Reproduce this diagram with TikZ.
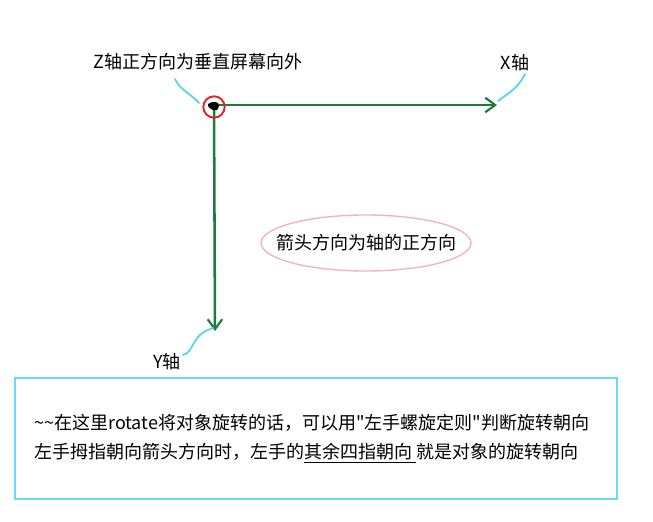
\documentclass[tikz,border=0pt]{standalone}
\usepackage{fontspec}
\setmainfont{Noto Sans CJK SC}
\newfontfamily\cjkplain{Noto Sans CJK SC}
\usetikzlibrary{arrows.meta,shapes.geometric}
\definecolor{axisgreen}{RGB}{28,124,60}
\definecolor{leadcyan}{RGB}{95,212,242}
\definecolor{boxcyan}{RGB}{100,220,250}
\definecolor{ovalpink}{RGB}{246,172,204}
\definecolor{ringred}{RGB}{228,32,36}
\begin{document}
\begin{tikzpicture}[x=0.75pt, y=-0.75pt,
   axis_style/.style={draw=axisgreen, line width=1.9pt, -{Straight Barb[length=7.5pt, width=11pt, line width=1.6pt]}},
   lead_style/.style={draw=leadcyan, line width=1.4pt, line cap=round},
   label_style/.style={font=\cjkplain\fontsize{13.5pt}{16pt}\selectfont, inner sep=0pt}]
	  \useasboundingbox (0,0) rectangle (653,521);

	  % axes
	  \coordinate (o) at (214,105);
	  \coordinate (xend) at (497,105);
	  \coordinate (yend) at (215,331);
	  \draw [axis_style] (o) -- (xend);
	  \draw [axis_style] (o) -- (yend);
	  \node [circle, draw=ringred, line width=1.4pt, minimum size=16pt, inner sep=0pt] (ring) at (214,107) {};
	  \fill [black] (208,104) .. controls (213,100) and (220,102) .. (219,106) .. controls (218,111) and (215,111) .. (213,110) .. controls (211,109) and (207,107) .. (208,104);

	  % labels
	  \node [label_style] (zlabel) at (198,62) {Z轴正方向为垂直屏幕向外};
	  \node [label_style] (xlabel) at (515,63) {X轴};
	  \node [label_style] (ylabel) at (167,362) {Y轴};
	  \coordinate (zfoot) at (175,79);
	  \coordinate (xfoot) at (525,74);
	  \coordinate (yfoot) at (183,355);
	  \draw [lead_style] (zfoot) .. controls (180,90) and (190,93) .. (199,103);
	  \draw [lead_style] (xfoot) .. controls (518,88) and (510,92) .. (498,101);
	  \draw [lead_style] (yfoot) .. controls (195,352) and (190,335) .. (213,328);

	  % oval note
	  \node [ellipse, draw=ovalpink, line width=1pt, minimum width=157.5pt, minimum height=42pt, inner sep=0pt] (oval) at (366,243) {};
	  \node [label_style] (ovaltext) at (oval) {箭头方向为轴的正方向};

	  % bottom note
	  \draw [boxcyan, line width=1.6pt] (15,378) rectangle (617,499);
	  \node [label_style, anchor=west] (line1) at (34,423) {{\char"7E}{\char"7E}在这里rotate将对象旋转的话，可以用"左手螺旋定则"判断旋转朝向};
	  \node [label_style, anchor=west] (line2) at (34,453) {左手拇指朝向箭头方向时，左手的\underline{其余四指朝向\ }就是对象的旋转朝向};

	\end{tikzpicture}
\end{document}
